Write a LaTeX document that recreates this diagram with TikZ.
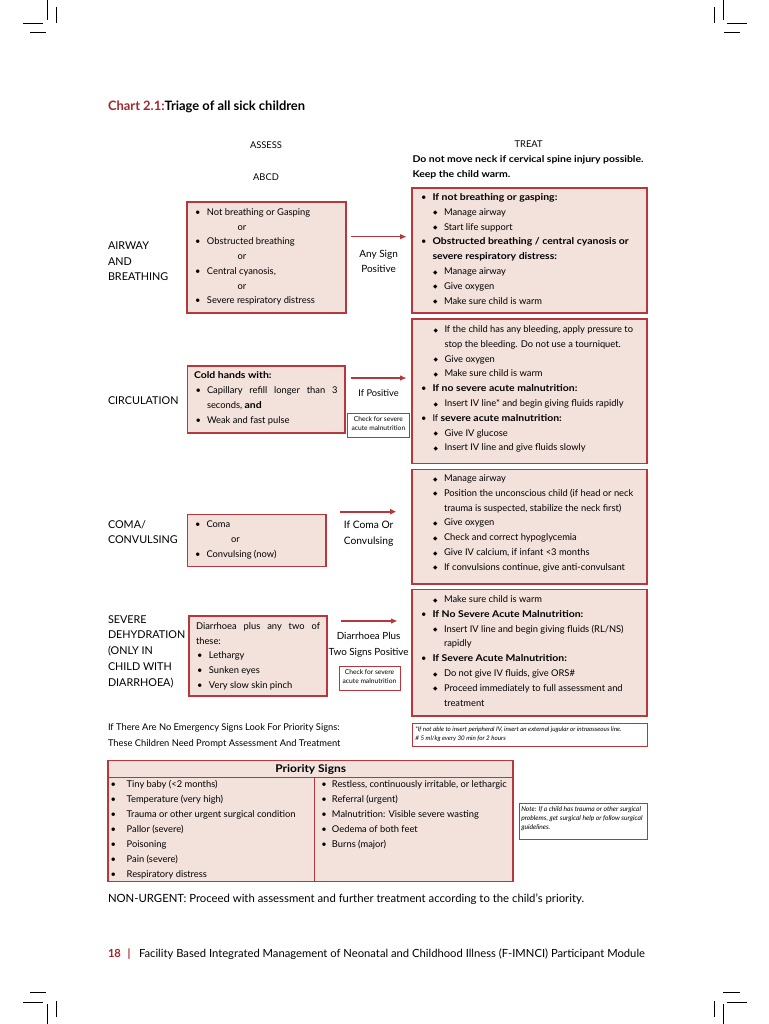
\documentclass[tikz,border=0pt]{standalone}
\usepackage{fontspec}
\setmainfont{Lato}[BoldFeatures={FakeStretch=1.12}]
\newfontfamily\plainlato{Lato}
\newfontfamily\dejavu{DejaVu Sans}
\usetikzlibrary{arrows.meta,fit}
\definecolor{bred}{HTML}{B7373C}
\definecolor{bfill}{HTML}{F3E1DC}
\definecolor{tred}{HTML}{A3262C}
\newlength\px \setlength\px{0.75pt}
\newcommand\bul[1][11.5]{\makebox[#1\px][l]{\textbullet}}
\newcommand\dia{\makebox[11\px][l]{\raisebox{0.1ex}{\dejavu\fontsize{4.3}{4}\selectfont ◆}}}
\newcommand\ind[1]{\hspace*{#1\px}}
\newcommand\lines[1]{\begin{tabular}[t]{@{}l@{}}#1\end{tabular}}
\newcommand\clines[1]{\begin{tabular}[t]{@{}c@{}}#1\end{tabular}}
\newcommand\bodyfont{\fontsize{7}{11.07}\selectfont}
\begin{document}
\begin{tikzpicture}[x=0.75pt,y=-0.75pt,
  every node/.style={inner sep=0pt,outer sep=0pt},
  pbox/.style={draw=bred,fill=bfill,line width=0.9pt},
  wbox/.style={draw=bred,fill=white,line width=0.75pt},
  txt/.style={anchor=base west,font=\bodyfont},
  lbl/.style={anchor=base west,font=\fontsize{8.1}{11.7}\selectfont},
  ctr/.style={anchor=base,font=\fontsize{7}{11.5}\selectfont},
  tiny/.style={anchor=base,font=\fontsize{5}{6.75}\selectfont},
  arr/.style={draw=bred,line width=0.9pt,-{Triangle[length=4.5pt,width=3.6pt]}},
  crop/.style={draw=black,line width=0.75pt}]
\useasboundingbox (0,0) rectangle (768,1024);
% crop marks
\coordinate (c1a) at (23,24); \coordinate (c1b) at (43,24);
\coordinate (c2a) at (30,33); \coordinate (c2b) at (46,33);
\coordinate (c3a) at (47,0); \coordinate (c3b) at (47,20);
\coordinate (c4a) at (56,7); \coordinate (c4b) at (56,23);
\draw[crop] (c1a)--(c1b) (c2a)--(c2b) (c3a)--(c3b) (c4a)--(c4b);
\coordinate (d1a) at (727,24); \coordinate (d1b) at (747,24);
\coordinate (d2a) at (724,33); \coordinate (d2b) at (740,33);
\coordinate (d3a) at (723,0); \coordinate (d3b) at (723,20);
\coordinate (d4a) at (714,7); \coordinate (d4b) at (714,23);
\draw[crop] (d1a)--(d1b) (d2a)--(d2b) (d3a)--(d3b) (d4a)--(d4b);
\coordinate (e1a) at (23,1002); \coordinate (e1b) at (43,1002);
\coordinate (e2a) at (30,992); \coordinate (e2b) at (46,992);
\coordinate (e3a) at (47,1004); \coordinate (e3b) at (47,1024);
\coordinate (e4a) at (56,1001); \coordinate (e4b) at (56,1017);
\draw[crop] (e1a)--(e1b) (e2a)--(e2b) (e3a)--(e3b) (e4a)--(e4b);
\coordinate (f1a) at (727,1002); \coordinate (f1b) at (747,1002);
\coordinate (f2a) at (723,992); \coordinate (f2b) at (740,992);
\coordinate (f3a) at (723,1004); \coordinate (f3b) at (723,1024);
\coordinate (f4a) at (714,1001); \coordinate (f4b) at (714,1017);
\draw[crop] (f1a)--(f1b) (f2a)--(f2b) (f3a)--(f3b) (f4a)--(f4b);

% title and headers
\node[anchor=base west,font=\fontsize{9.7}{12}\selectfont\plainlato\bfseries] (title) at (108,110.5) {\textcolor{tred}{Chart 2.1:}Triage of all sick children};
\node[ctr] (assess) at (266,148.7) {ASSESS};
\node[ctr] (abcd) at (266,180.7) {ABCD};
\node[ctr] (treat) at (528.6,147) {TREAT};
\node[anchor=base west,font=\fontsize{7}{10.75}\selectfont\bfseries] (warn) at (412.5,162.7) {\lines{Do not move neck if cervical spine injury possible.\\Keep the child warm.}};

% boxes
\node[pbox,fit={(187,202)(346,313)}] (a1) {};
\node[pbox,fit={(412,188)(647,313)}] (t1) {};
\node[pbox,fit={(412,319)(647,463.5)}] (t2) {};
\node[pbox,fit={(187.5,366)(345,433)}] (a2) {};
\node[wbox,fit={(347.5,413.3)(409.3,437)}] (s1) {};
\node[pbox,fit={(412,469.3)(647,584)}] (t3) {};
\node[pbox,fit={(187.5,514.7)(326,566.3)}] (a3) {};
\node[pbox,fit={(412,589.3)(647,716)}] (t4) {};
\node[pbox,fit={(189,616)(327,696)}] (a4) {};
\node[wbox,fit={(339,666.7)(400,690)}] (s2) {};
\node[wbox,fit={(412,723.3)(647,746)}] (fn) {};
\node[pbox,fit={(108,760.7)(513,881.7)}] (pr) {};
\coordinate (prh1) at (108,777.3); \coordinate (prh2) at (513,777.3);
\coordinate (prd1) at (314.6,777.3); \coordinate (prd2) at (314.6,881.7);
\draw[draw=bred,line width=0.9pt] (prh1)--(prh2) (prd1)--(prd2);
\node[wbox,fit={(519,803.5)(647,839)}] (nb) {};

% left labels
\node[lbl] (l1) at (108,249.7) {\lines{AIRWAY\\AND\\BREATHING}};
\node[lbl] (l2) at (108,404.7) {CIRCULATION};
\node[lbl,font=\fontsize{8.1}{11.5}\selectfont] (l3) at (108,528) {\lines{COMA/\\CONVULSING}};
\node[lbl,font=\fontsize{8.1}{11.9}\selectfont] (l4) at (108,623) {\lines{SEVERE\\DEHYDRATION\\(ONLY IN\\CHILD WITH\\DIARRHOEA)}};

% assess texts
\node[txt] (a1t) at (195,215.4) {\lines{\bul[12]Not breathing or Gasping\\
\ind{42.5}or\\
\bul[12]Obstructed breathing\\
\ind{42.5}or\\
\bul[12]Central cyanosis,\\
\ind{42.5}or\\
\bul[12]Severe respiratory distress}};
\node[txt,font=\fontsize{7}{11.2}\selectfont] (a2t) at (194,378.4) {\lines{\textbf{Cold hands with:}\\
\ind{1.5}\bul[11.5]\makebox[130.5\px][s]{Capillary refill longer than 3}\\
\ind{13}seconds, \textbf{and}\\
\ind{1.5}\bul[11.5]Weak and fast pulse}};
\node[txt,font=\fontsize{7}{11.14}\selectfont] (a3t) at (195,527.7) {\lines{\bul[11.5]Coma\\
\ind{36}or\\
\bul[11.5]Convulsing (now)}};
\node[txt,font=\fontsize{7}{11}\selectfont] (a4t) at (196,629.4) {\lines{\makebox[124\px][s]{Diarrhoea plus any two of}\\
these:\\
\ind{1}\bul[12]Lethargy\\
\ind{1}\bul[12]Sunken eyes\\
\ind{1}\bul[12]Very slow skin pinch}};

% treat texts
\node[txt] (t1t) at (421,200.7) {\lines{\bul\textbf{If not breathing or gasping:}\\
\ind{12}\dia Manage airway\\
\ind{12}\dia Start life support\\
\bul\textbf{Obstructed breathing / central cyanosis or}\\
\ind{11.5}\textbf{severe respiratory distress:}\\
\ind{12}\dia Manage airway\\
\ind{12}\dia Give oxygen\\
\ind{12}\dia Make sure child is warm}};
\node[txt] (t2t) at (421,332.7) {\lines{\ind{12.5}\dia If the child has any bleeding, apply pressure to\\
\ind{23.5}stop the bleeding. Do not use a tourniquet.\\
\ind{12.5}\dia Give oxygen\\
\ind{12.5}\dia Make sure child is warm\\
\bul\textbf{If no severe acute malnutrition:}\\
\ind{12.5}\dia Insert IV line* and begin giving fluids rapidly\\
\bul If \textbf{severe acute malnutrition:}\\
\ind{12.5}\dia Give IV glucose\\
\ind{12.5}\dia Insert IV line and give fluids slowly}};
\node[txt] (t3t) at (421,481.7) {\lines{\ind{12}\dia Manage airway\\
\ind{12}\dia Position the unconscious child (if head or neck\\
\ind{23}trauma is suspected, stabilize the neck first)\\
\ind{12}\dia Give oxygen\\
\ind{12}\dia Check and correct hypoglycemia\\
\ind{12}\dia Give IV calcium, if infant <3 months\\
\ind{12}\dia If convulsions continue, give anti-convulsant}};
\node[txt] (t4t) at (421,602.7) {\lines{\ind{12}\dia Make sure child is warm\\
\bul\textbf{If No Severe Acute Malnutrition:}\\
\ind{12}\dia Insert IV line and begin giving fluids (RL/NS)\\
\ind{23}rapidly\\
\bul\textbf{If Severe Acute Malnutrition:}\\
\ind{12}\dia Do not give IV fluids, give ORS\#\\
\ind{12}\dia Proceed immediately to full assessment and\\
\ind{23}treatment}};

% arrows and labels
\coordinate (r1a) at (351,236.7); \coordinate (r1b) at (406,236.7);
\draw[arr] (r1a)--(r1b);
\node[ctr,font=\fontsize{7.5}{11.5}\selectfont] (r1l) at (378.6,257) {\clines{Any Sign\\Positive}};
\coordinate (r2a) at (351,378); \coordinate (r2b) at (406,378);
\draw[arr] (r2a)--(r2b);
\node[ctr] (r2l) at (378.6,396.4) {If Positive};
\node[tiny] (s1t) at (378.4,421.3) {\clines{Check for severe\\acute malnutrition}};
\coordinate (r3a) at (340,511.7); \coordinate (r3b) at (396,511.7);
\draw[arr,line width=1.6pt,-{Triangle[length=4.5pt,width=4pt]}] (r3a)--(r3b);
\node[ctr,font=\fontsize{7.7}{12}\selectfont] (r3l) at (368.6,528) {\clines{If Coma Or\\Convulsing}};
\coordinate (r4a) at (341.4,621); \coordinate (r4b) at (397,621);
\draw[arr] (r4a)--(r4b);
\node[ctr,font=\fontsize{7.4}{11.7}\selectfont] (r4l) at (368.6,639.4) {\clines{Diarrhoea Plus\\Two Signs Positive}};
\node[tiny] (s2t) at (369.5,674.2) {\clines{Check for severe\\acute malnutrition}};

% footnote
\node[anchor=base west,font=\fontsize{4.7}{6.75}\selectfont\itshape] (fnt) at (415.4,731.3) {\lines{*If not able to insert peripheral IV, insert an external jugular or intraosseous line.\\\# 5 ml/kg every 30 min for 2 hours}};
\node[anchor=base west,font=\fontsize{7}{11.5}\selectfont] (np) at (108,730.7) {\lines{If There Are No Emergency Signs Look For Priority Signs:\\These Children Need Prompt Assessment And Treatment}};

% priority signs
\node[anchor=base,font=\fontsize{8}{9}\selectfont\bfseries] (prt) at (310.7,772) {Priority Signs};
\node[txt,font=\fontsize{7}{11.2}\selectfont] (prl) at (110.7,787.4) {\lines{\bul[16]Tiny baby (<2 months)\\
\bul[16]Temperature (very high)\\
\bul[16]Trauma or other urgent surgical condition\\
\bul[16]Pallor (severe)\\
\bul[16]Poisoning\\
\bul[16]Pain (severe)\\
\bul[16]Respiratory distress}};
\node[txt,font=\fontsize{7}{11.2}\selectfont] (prr) at (321.4,787.4) {\lines{\bul[10.6]Restless, continuously irritable, or lethargic\\
\bul[10.6]Referral (urgent)\\
\bul[10.6]Malnutrition: Visible severe wasting\\
\bul[10.6]Oedema of both feet\\
\bul[10.6]Burns (major)}};
\node[anchor=base west,font=\fontsize{5}{7}\selectfont\itshape] (nbt) at (521.3,811.3) {\lines{Note: If a child has trauma or other surgical\\problems, get surgical help or follow surgical\\guidelines.}};

% bottom
\node[anchor=base west,font=\fontsize{8.5}{10}\selectfont] (nu) at (108,902.5) {NON-URGENT: Proceed with assessment and further treatment according to the child’s priority.};
\node[anchor=base west,font=\fontsize{8.4}{10}\selectfont\plainlato\bfseries,text=tred] (pg) at (108,957.5) {18};
\node[anchor=base west,font=\fontsize{8.4}{10}\selectfont\plainlato\bfseries,text=tred] (bar) at (127.5,957.5) {|};
\node[anchor=base west,font=\fontsize{8.43}{10}\selectfont] (ft) at (139,957.5) {Facility Based Integrated Management of Neonatal and Childhood Illness (F-IMNCI) Participant Module};
\end{tikzpicture}
\end{document}
